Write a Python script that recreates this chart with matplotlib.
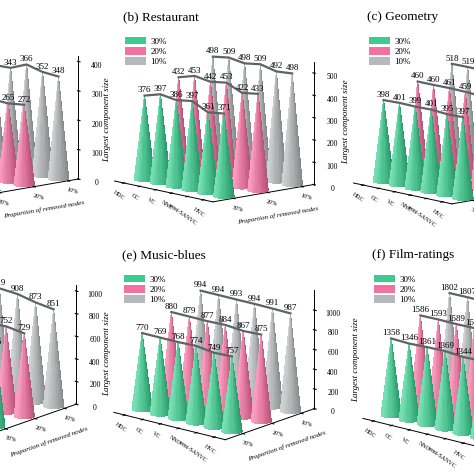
import numpy as np
import matplotlib
matplotlib.use('Agg')
import matplotlib.pyplot as plt
from matplotlib.patches import Patch
from matplotlib.colors import to_rgb

plt.rcParams['font.family'] = ['Liberation Serif', 'DejaVu Serif']

methods = ['HDC', 'CC', 'VC', 'NNC', 'semi-SANVC', 'HVC']
proportions = ['30%', '20%', '10%']
cone_colors = ['#3ecb8f', '#f1729f', '#b5b9b9']

titles = ['(a) Jazz', '(b) Restaurant', '(c) Geometry',
          '(d) Email', '(e) Music-blues', '(f) Film-ratings']

# largest component size per panel, one list per proportion of removed nodes
a_30 = [150, 158, 152, 160, 148, 155]
a_20 = [256, 262, 259, 268, 265, 272]
a_10 = [338, 341, 343, 366, 352, 348]
b_30 = [376, 397, 386, 397, 361, 371]
b_20 = [432, 453, 442, 453, 422, 433]
b_10 = [498, 509, 498, 509, 492, 498]
c_30 = [398, 401, 399, 401, 395, 397]
c_20 = [460, 460, 461, 459, 455, 458]
c_10 = [518, 519, 518, 519, 515, 517]
d_30 = [690, 702, 695, 710, 688, 696]
d_20 = [760, 748, 755, 741, 752, 729]
d_10 = [915, 912, 919, 908, 873, 851]
e_30 = [770, 769, 768, 774, 749, 757]
e_20 = [880, 879, 877, 884, 867, 875]
e_10 = [994, 994, 993, 994, 991, 987]
f_30 = [1358, 1346, 1361, 1369, 1344, 1352]
f_20 = [1586, 1593, 1589, 1597, 1575, 1580]
f_10 = [1802, 1807, 1805, 1810, 1795, 1800]

panel_vals = [(a_30, a_20, a_10), (b_30, b_20, b_10), (c_30, c_20, c_10),
              (d_30, d_20, d_10), (e_30, e_20, e_10), (f_30, f_20, f_10)]
z_max = [420, 550, 600, 1050, 1200, 2100]
z_top_tick = [400, 500, 600, 1000, 1000, 2000]
z_step = [100, 100, 100, 200, 200, 500]

# title anchor of each panel in pixels (the figure is a crop of a bigger one)
origins = [(-122, 17), (123, 17), (367, 17), (-123, 255), (122, 255), (372, 255)]
# anchor of each 3D box in pixels
boxes = [(-108, 22), (127, 28), (366, 30), (-111, 253), (127, 258), (376, 264)]
elevs = [11, 11, 11, 17, 17, 17]
azims = [-42, -42, -42, -50, -50, -50]
y_top = [2.3, 2.35, 2.35, 2.4, 2.45, 2.45]
zlabel_pad = [-23, -18, -18, -23, -18, -18]

W = H = 474
fig = plt.figure(figsize=(4.74, 4.74), dpi=100)


def px(x):
    return x / W


def py(y):
    return 1 - y / H


theta = np.linspace(0, 2 * np.pi, 31)
light = np.deg2rad(-110)


def shade(base, ang):
    t = 0.5 + 0.5 * np.cos(ang - light)
    base = np.array(to_rgb(base))
    c = base * (0.70 + 0.32 * t)[..., None] + (1 - base) * (0.30 * t ** 3)[..., None]
    return np.clip(c, 0, 1)


def cone(ax, x, y, h, color, zo, rx, ry):
    T, TH = np.meshgrid([0.0, 1.0], theta)
    X = x + rx * (1 - T) * np.cos(TH)
    Y = y + ry * (1 - T) * np.sin(TH)
    Z = h * T
    fc = shade(color, TH + np.pi / 30)
    ax.plot_surface(X, Y, Z, facecolors=fc, rstride=1, cstride=1,
                    shade=False, linewidth=0, antialiased=False, zorder=zo)


xlim = (-0.6, 5.6)
rx = 0.43

for k in range(6):
    ox, oy = origins[k]
    bx, by = boxes[k]
    ylim = (-0.6, y_top[k])
    ay = (ylim[1] - ylim[0]) / 3.2
    ry = rx * (ylim[1] - ylim[0]) / ay / (xlim[1] - xlim[0])
    left, top, w, h = bx - 51, by - 18, 270, 229
    ax = fig.add_axes([px(left), py(top + h), w / W, h / H],
                      projection='3d', computed_zorder=False)
    ax.patch.set_visible(False)
    ax.set_proj_type('ortho')
    ax.view_init(elev=elevs[k], azim=azims[k])
    ax.set_box_aspect((1, ay, 0.85))
    ax.set_xlim(*xlim)
    ax.set_ylim(*ylim)
    ax.set_zlim(0, z_max[k])
    ax.grid(False)

    for yi, row in enumerate(panel_vals[k]):
        for xi, v in enumerate(row):
            cone(ax, xi, yi, v, cone_colors[yi], 100 - 30 * yi + xi, rx, ry)
        ax.plot(range(6), [yi] * 6, row, color='#5f6366', lw=1.6,
                zorder=100 - 30 * yi + 10)
        for xi, v in enumerate(row):
            ax.text(xi, yi, v + z_max[k] * 0.01, str(v), ha='center', va='bottom',
                    fontsize=6.5, zorder=300)

    ax.set_xticks(range(6))
    ax.set_xticklabels(methods, rotation=-35, fontsize=4.3)
    ax.set_yticks(range(3))
    ax.set_yticklabels(proportions, rotation=-15, fontsize=4.5)
    ax.set_zticks(np.arange(0, z_top_tick[k] + 1, z_step[k]))
    ax.tick_params(axis='z', labelsize=5.5, pad=0)
    ax.tick_params(axis='x', pad=-4)
    ax.tick_params(axis='y', pad=-4)
    ax.set_ylabel('Proportion of removed nodes', fontsize=5, fontstyle='italic', labelpad=-8)
    ax.set_zlabel('Largest component size', fontsize=6.5, fontstyle='italic',
                  labelpad=zlabel_pad[k])
    ax.zaxis.set_ticks_position('upper')
    ax.zaxis.set_label_position('lower')

    for axis in (ax.xaxis, ax.yaxis, ax.zaxis):
        axis.set_pane_color((1, 1, 1, 0))
        axis.pane.set_edgecolor('none')
        axis.line.set_color('black')
        axis.line.set_linewidth(0.7)
    ax.yaxis.pane.set_edgecolor('#a0a0a0')
    ax.yaxis.pane.set_linewidth(0.7)

    fig.text(px(ox), py(oy), titles[k], fontsize=9.5, va='center', ha='left')
    handles = [Patch(facecolor=c, edgecolor='none') for c in cone_colors]
    fig.legend(handles, proportions, loc='upper left',
               bbox_to_anchor=(px(ox + 2), py(oy + 20)), frameon=False,
               fontsize=6.5, handlelength=2.3, handleheight=0.9,
               handletextpad=0.5, labelspacing=0.15, borderpad=0,
               borderaxespad=0)

fig.savefig('out.png', dpi=100)
